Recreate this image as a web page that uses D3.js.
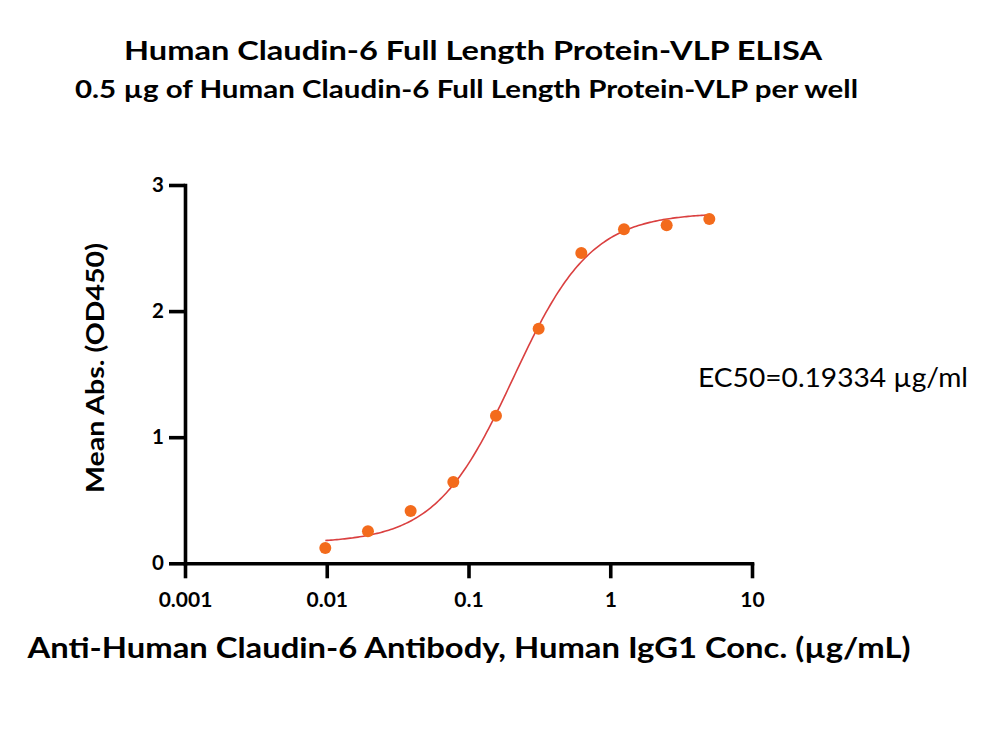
<!DOCTYPE html>
<html>
<head>
<meta charset="utf-8">
<script src="https://cdn.jsdelivr.net/npm/d3@7"></script>
<style>
  html, body { margin: 0; padding: 0; background: #fff; }
  svg { display: block; }
  text { font-family: Lato, "Open Sans", "Noto Sans", sans-serif; fill: #000; }
</style>
</head>
<body>
<svg id="chart" width="1000" height="741"></svg>
<script>
// ---- data ----
const concentrations = [5, 2.5, 1.25, 0.625, 0.3125, 0.15625, 0.078125, 0.0390625, 0.01953125, 0.009765625];
const meanAbs        = [2.73, 2.68, 2.65, 2.46, 1.86, 1.17, 0.645, 0.415, 0.254, 0.121];
const xTickValues = [0.001, 0.01, 0.1, 1, 10];
const xTickLabels = ["0.001", "0.01", "0.1", "1", "10"];
const yTickValues = [0, 1, 2, 3];
const yTickLabels = ["0", "1", "2", "3"];
// four-parameter logistic fit drawn through the points
const fitBottom = 0.16;
const fitTop = 2.78;
const fitEC50 = 0.207;
const fitHill = 1.58;
const titleText = "Human Claudin-6 Full Length Protein-VLP ELISA";
const subtitleText = "0.5 \u00b5g of Human Claudin-6 Full Length Protein-VLP per well";
const xTitleText = "Anti-Human Claudin-6 Antibody, Human IgG1 Conc. (\u00b5g/mL)";
const yTitleText = "Mean Abs. (OD450)";
const ec50Text = "EC50=0.19334 \u00b5g/ml";

const svg = d3.select("#chart");

const x = d3.scaleLog().domain([0.001, 10]).range([185, 752]);
const y = d3.scaleLinear().domain([0, 3]).range([563.3, 185]);

const pointColor = "#F36B1C";
const lineColor = "#DA4040";

// ---- titles ----
svg.append("text").attr("x", 124).attr("y", 59.5)
  .attr("font-size", 27.5).attr("font-weight", 700)
  .attr("textLength", 698).attr("lengthAdjust", "spacingAndGlyphs")
  .text(titleText);
svg.append("text").attr("x", 75).attr("y", 98.3)
  .attr("font-size", 24.5).attr("font-weight", 700)
  .attr("textLength", 783).attr("lengthAdjust", "spacingAndGlyphs")
  .text(subtitleText);

// ---- axes ----
const xAxis = d3.axisBottom(x)
  .tickValues(xTickValues)
  .tickFormat((d, i) => xTickLabels[i])
  .tickSizeInner(15).tickSizeOuter(0).tickPadding(14);
const gx = svg.append("g").attr("transform", `translate(0,${y(0)})`).call(xAxis);

const yAxis = d3.axisLeft(y)
  .tickValues(yTickValues)
  .tickFormat((d, i) => yTickLabels[i])
  .tickSizeInner(16).tickSizeOuter(0).tickPadding(5);
const gy = svg.append("g").attr("transform", `translate(${x(0.001)},0)`).call(yAxis);

[gx, gy].forEach(g => {
  g.select(".domain").attr("stroke", "#000").attr("stroke-width", 3.6).attr("stroke-linecap", "square");
  g.selectAll(".tick line").attr("stroke", "#000").attr("stroke-width", 3.6);
  g.selectAll(".tick text").attr("font-family", "Lato, 'Open Sans', sans-serif")
    .attr("font-weight", 700).attr("fill", "#000");
});
gx.selectAll(".tick text").attr("font-size", 21).attr("dy", "0.68em");
gy.selectAll(".tick text").attr("font-size", 20.5);

// ---- axis titles ----
svg.append("text").attr("x", 27.5).attr("y", 658.3)
  .attr("font-size", 28).attr("font-weight", 700)
  .attr("textLength", 883).attr("lengthAdjust", "spacingAndGlyphs")
  .text(xTitleText);
svg.append("text")
  .attr("transform", "translate(104,493) rotate(-90)")
  .attr("font-size", 24).attr("font-weight", 700)
  .attr("textLength", 250).attr("lengthAdjust", "spacingAndGlyphs")
  .text(yTitleText);

// ---- fitted curve ----
const fit = c => fitBottom + (fitTop - fitBottom) / (1 + Math.pow(fitEC50 / c, fitHill));
const xMin = d3.min(concentrations), xMax = d3.max(concentrations);
const lmin = Math.log10(xMin), lmax = Math.log10(xMax);
const curve = d3.range(0, 201).map(i => {
  const c = Math.pow(10, lmin + (lmax - lmin) * i / 200);
  return [c, fit(c)];
});
svg.append("path").datum(curve)
  .attr("fill", "none").attr("stroke", lineColor).attr("stroke-width", 1.6)
  .attr("d", d3.line().x(d => x(d[0])).y(d => y(d[1])).curve(d3.curveLinear));

// ---- points ----
svg.append("g").selectAll("circle")
  .data(concentrations.map((c, i) => [c, meanAbs[i]]))
  .join("circle")
  .attr("cx", d => x(d[0])).attr("cy", d => y(d[1])).attr("r", 6)
  .attr("fill", pointColor);

// ---- EC50 annotation ----
svg.append("text").attr("x", 698).attr("y", 387)
  .attr("font-size", 27.5).attr("font-weight", 400)
  .attr("textLength", 270).attr("lengthAdjust", "spacingAndGlyphs")
  .text(ec50Text);
</script>
</body>
</html>
